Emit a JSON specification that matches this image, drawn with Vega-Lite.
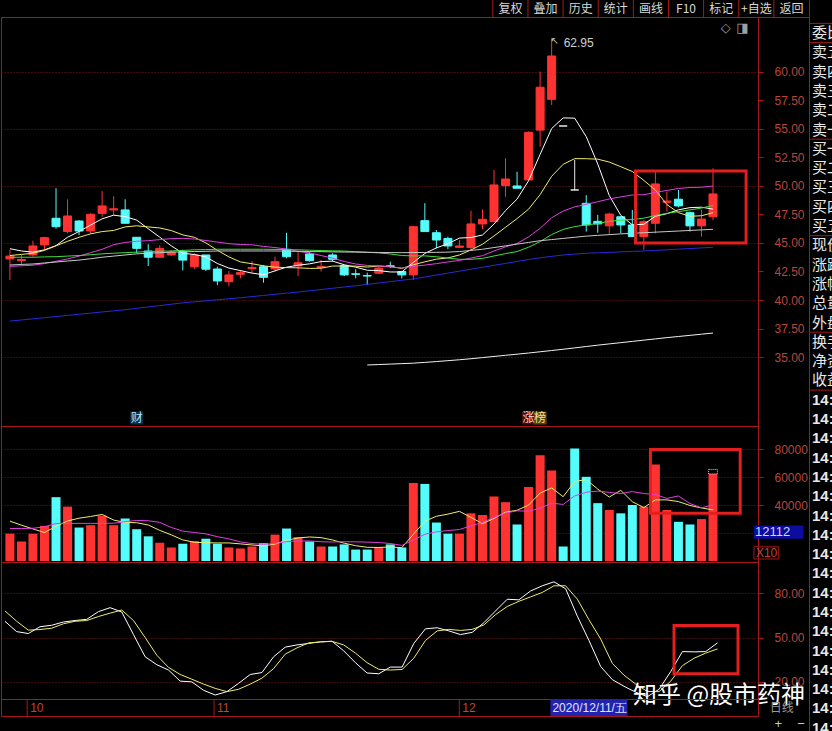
{
"$schema": "https://vega.github.io/schema/vega-lite/v6.json",
"background": "#000000",
"padding": 0,
"columns": 2,
"spacing": 0,
"bounds": "flush",
"align": "each",
"resolve": {"scale": {"stroke": "independent", "color": "independent", "fill": "independent"}},
"config": {
  "view": {"stroke": "#a81818", "strokeWidth": 1},
  "axis": {"labelFont": "Liberation Sans", "labelFontSize": 12, "labelColor": "#b8473d", "tickColor": "#a81818", "domainColor": "#a81818", "gridColor": "#7a1a1a", "gridDash": [1, 2]},
  "text": {"font": "Liberation Sans"}
},
"datasets": {
  "k": [
{"i":0,"o":43.6,"h":44.4,"l":41.75,"c":43.85,"v":19600,"m5":44.5,"m10":43.9,"m20":42.95,"m30":43.75,"m60":43.07,"m120":38.15,"vm5":28600,"vm10":23300,"K":61,"D":68},
{"i":1,"o":43.45,"h":43.95,"l":42.98,"c":43.55,"v":14000,"m5":44.3,"m10":44.0,"m20":43.0,"m30":43.75,"m60":43.12,"m120":38.25,"vm5":25700,"vm10":23300,"K":54,"D":61},
{"i":2,"o":43.95,"h":45.2,"l":43.8,"c":44.74,"v":19600,"m5":44.2,"m10":44.1,"m20":43.05,"m30":43.75,"m60":43.16,"m120":38.35,"vm5":23000,"vm10":23500,"K":52.7,"D":55},
{"i":3,"o":44.83,"h":45.55,"l":44.4,"c":45.47,"v":25200,"m5":44.4,"m10":44.35,"m20":43.2,"m30":43.78,"m60":43.25,"m120":38.45,"vm5":20400,"vm10":24500,"K":57.3,"D":55.4},
{"i":4,"o":47.17,"h":49.8,"l":46.26,"c":46.43,"v":45800,"m5":44.77,"m10":44.75,"m20":43.4,"m30":43.8,"m60":43.33,"m120":38.55,"vm5":24840,"vm10":26900,"K":58.3,"D":56.3},
{"i":5,"o":46.0,"h":48.83,"l":45.85,"c":47.37,"v":39000,"m5":45.5,"m10":45.15,"m20":43.6,"m30":43.85,"m60":43.42,"m120":38.65,"vm5":28720,"vm10":27000,"K":60.5,"D":59.3},
{"i":6,"o":46.93,"h":47.0,"l":45.7,"c":46.05,"v":24000,"m5":46.01,"m10":45.5,"m20":43.85,"m30":43.9,"m60":43.5,"m120":38.75,"vm5":30720,"vm10":27000,"K":61.5,"D":61},
{"i":7,"o":46.05,"h":47.6,"l":45.8,"c":47.52,"v":25700,"m5":46.57,"m10":45.8,"m20":44.15,"m30":43.97,"m60":43.62,"m120":38.85,"vm5":31940,"vm10":27000,"K":62.3,"D":61.5},
{"i":8,"o":47.6,"h":49.56,"l":47.3,"c":48.25,"v":32500,"m5":47.12,"m10":46.0,"m20":44.45,"m30":44.05,"m60":43.75,"m120":38.95,"vm5":33400,"vm10":27000,"K":67.5,"D":64.2},
{"i":9,"o":47.9,"h":49.1,"l":47.45,"c":48.0,"v":25700,"m5":47.44,"m10":46.1,"m20":44.85,"m30":44.1,"m60":43.85,"m120":39.05,"vm5":29380,"vm10":27110,"K":70.2,"D":66.5},
{"i":10,"o":47.9,"h":48.83,"l":46.73,"c":46.73,"v":30500,"m5":47.31,"m10":46.41,"m20":45.05,"m30":44.15,"m60":43.95,"m120":39.15,"vm5":27680,"vm10":28200,"K":67.3,"D":68.6},
{"i":11,"o":45.5,"h":45.5,"l":44.1,"c":44.53,"v":22800,"m5":47.01,"m10":46.51,"m20":45.15,"m30":44.2,"m60":44.05,"m120":39.27,"vm5":27440,"vm10":29080,"K":52,"D":61.5},
{"i":12,"o":44.3,"h":44.9,"l":42.98,"c":43.75,"v":17700,"m5":46.25,"m10":46.41,"m20":45.2,"m30":44.25,"m60":44.1,"m120":39.39,"vm5":25840,"vm10":28890,"K":37,"D":50},
{"i":13,"o":43.75,"h":44.8,"l":43.75,"c":44.53,"v":13100,"m5":45.51,"m10":46.32,"m20":45.3,"m30":44.28,"m60":44.15,"m120":39.51,"vm5":21960,"vm10":27680,"K":31.6,"D":38},
{"i":14,"o":43.95,"h":44.4,"l":43.86,"c":44.2,"v":9700,"m5":44.75,"m10":46.09,"m20":45.38,"m30":44.3,"m60":44.2,"m120":39.63,"vm5":18760,"vm10":24070,"K":28,"D":29.8},
{"i":15,"o":44.24,"h":44.4,"l":42.6,"c":43.5,"v":12400,"m5":44.1,"m10":45.71,"m20":45.41,"m30":44.35,"m60":44.22,"m120":39.75,"vm5":15140,"vm10":21410,"K":20.5,"D":25},
{"i":16,"o":42.92,"h":44.1,"l":42.7,"c":43.95,"v":14300,"m5":43.99,"m10":45.5,"m20":45.35,"m30":44.4,"m60":44.25,"m120":39.84,"vm5":13440,"vm10":20440,"K":20,"D":21.8},
{"i":17,"o":43.95,"h":43.95,"l":42.55,"c":42.7,"v":16000,"m5":43.78,"m10":45.01,"m20":45.22,"m30":44.42,"m60":44.27,"m120":39.93,"vm5":13100,"vm10":19470,"K":14.3,"D":18.5},
{"i":18,"o":42.72,"h":42.92,"l":41.3,"c":41.67,"v":12400,"m5":43.2,"m10":44.36,"m20":45.08,"m30":44.45,"m60":44.3,"m120":40.02,"vm5":12960,"vm10":17460,"K":11.1,"D":15.6},
{"i":19,"o":41.6,"h":42.55,"l":41.2,"c":42.2,"v":9700,"m5":42.8,"m10":43.78,"m20":44.94,"m30":44.45,"m60":44.3,"m120":40.11,"vm5":12960,"vm10":15860,"K":13.4,"D":13.4},
{"i":20,"o":42.25,"h":42.63,"l":41.9,"c":42.4,"v":9000,"m5":42.58,"m10":43.34,"m20":44.87,"m30":44.45,"m60":44.3,"m120":40.2,"vm5":12280,"vm10":13710,"K":19,"D":15},
{"i":21,"o":42.75,"h":43.4,"l":42.4,"c":42.85,"v":10400,"m5":42.36,"m10":43.18,"m20":44.84,"m30":44.45,"m60":44.3,"m120":40.3,"vm5":11500,"vm10":12470,"K":25,"D":18.5},
{"i":22,"o":42.92,"h":43.07,"l":41.52,"c":41.99,"v":12800,"m5":42.22,"m10":43.0,"m20":44.7,"m30":44.45,"m60":44.3,"m120":40.4,"vm5":10860,"vm10":11980,"K":26.3,"D":22.5},
{"i":23,"o":42.72,"h":43.8,"l":42.48,"c":43.36,"v":18900,"m5":42.56,"m10":42.88,"m20":44.6,"m30":44.44,"m60":44.3,"m120":40.5,"vm5":12160,"vm10":12560,"K":37,"D":29},
{"i":24,"o":44.45,"h":45.9,"l":43.66,"c":43.8,"v":23300,"m5":42.88,"m10":42.84,"m20":44.47,"m30":44.42,"m60":44.28,"m120":40.6,"vm5":14880,"vm10":13920,"K":43.5,"D":38.8},
{"i":25,"o":42.98,"h":44.24,"l":42.1,"c":43.27,"v":17200,"m5":43.05,"m10":42.82,"m20":44.26,"m30":44.4,"m60":44.27,"m120":40.7,"vm5":16520,"vm10":14400,"K":45,"D":43},
{"i":26,"o":44.04,"h":44.24,"l":43.36,"c":43.45,"v":14000,"m5":43.17,"m10":42.77,"m20":44.13,"m30":44.37,"m60":44.25,"m120":40.81,"vm5":17240,"vm10":14370,"K":46,"D":46.4},
{"i":27,"o":42.85,"h":43.5,"l":42.5,"c":42.95,"v":10400,"m5":43.37,"m10":42.79,"m20":43.9,"m30":44.34,"m60":44.24,"m120":40.92,"vm5":16760,"vm10":13810,"K":47.1,"D":47},
{"i":28,"o":43.95,"h":44.1,"l":43.36,"c":43.57,"v":10400,"m5":43.41,"m10":42.98,"m20":43.67,"m30":44.31,"m60":44.22,"m120":41.03,"vm5":15060,"vm10":13610,"K":47.5,"D":47.4},
{"i":29,"o":43.03,"h":43.03,"l":42.1,"c":42.2,"v":11900,"m5":43.09,"m10":42.98,"m20":43.38,"m30":44.29,"m60":44.21,"m120":41.14,"vm5":12780,"vm10":13830,"K":41,"D":45},
{"i":30,"o":42.3,"h":42.7,"l":41.9,"c":42.25,"v":8200,"m5":42.88,"m10":42.97,"m20":43.16,"m30":44.24,"m60":44.2,"m120":41.25,"vm5":10980,"vm10":13750,"K":33,"D":39.5},
{"i":31,"o":42.15,"h":42.4,"l":41.3,"c":42.1,"v":8200,"m5":42.61,"m10":42.89,"m20":43.03,"m30":44.19,"m60":44.18,"m120":41.37,"m250":34.3,"vm5":9820,"vm10":13530,"K":26,"D":33},
{"i":32,"o":42.35,"h":42.93,"l":42.3,"c":42.8,"v":9900,"m5":42.58,"m10":42.98,"m20":42.99,"m30":44.13,"m60":44.17,"m120":41.49,"m250":34.34,"vm5":9720,"vm10":13240,"K":25.5,"D":28.5},
{"i":33,"o":43.0,"h":43.36,"l":42.8,"c":42.95,"v":11900,"m5":42.46,"m10":42.93,"m20":42.91,"m30":44.04,"m60":44.16,"m120":41.61,"m250":34.38,"vm5":10020,"vm10":12540,"K":30,"D":28},
{"i":34,"o":42.5,"h":42.5,"l":41.9,"c":42.2,"v":9700,"m5":42.46,"m10":42.77,"m20":42.81,"m30":43.9,"m60":44.15,"m120":41.73,"m250":34.42,"vm5":9580,"vm10":11180,"K":30,"D":28.4},
{"i":35,"o":42.2,"h":46.43,"l":41.75,"c":46.43,"v":56000,"m5":43.3,"m10":43.09,"m20":42.95,"m30":43.87,"m60":44.16,"m120":41.85,"m250":34.46,"vm5":19140,"vm10":15060,"K":46,"D":36},
{"i":36,"o":46.96,"h":48.49,"l":46.0,"c":46.0,"v":55300,"m5":44.08,"m10":43.35,"m20":43.06,"m30":43.87,"m60":44.17,"m120":42.02,"m250":34.53,"vm5":28560,"vm10":19190,"K":55.9,"D":48},
{"i":37,"o":45.9,"h":46.14,"l":44.53,"c":45.26,"v":27600,"m5":44.57,"m10":43.58,"m20":43.19,"m30":43.79,"m60":44.18,"m120":42.19,"m250":34.6,"vm5":32100,"vm10":20910,"K":56.6,"D":54.5},
{"i":38,"o":45.4,"h":45.55,"l":44.45,"c":44.74,"v":19600,"m5":44.93,"m10":43.69,"m20":43.34,"m30":43.68,"m60":44.2,"m120":42.36,"m250":34.68,"vm5":33640,"vm10":21830,"K":54.5,"D":55.5},
{"i":39,"o":44.62,"h":45.26,"l":44.6,"c":44.74,"v":19600,"m5":45.43,"m10":43.95,"m20":43.47,"m30":43.57,"m60":44.25,"m120":42.53,"m250":34.76,"vm5":35620,"vm10":22600,"K":52,"D":54.8},
{"i":40,"o":44.6,"h":47.83,"l":44.4,"c":46.67,"v":34200,"m5":45.48,"m10":44.39,"m20":43.68,"m30":43.57,"m60":44.35,"m120":42.7,"m250":34.85,"vm5":31260,"vm10":25200,"K":53.5,"D":55.5},
{"i":41,"o":46.67,"h":47.96,"l":46.2,"c":47.08,"v":33000,"m5":45.7,"m10":44.89,"m20":43.89,"m30":43.65,"m60":44.45,"m120":42.87,"m250":34.95,"vm5":26800,"vm10":27680,"K":60,"D":58.5},
{"i":42,"o":46.87,"h":51.4,"l":46.87,"c":50.09,"v":46300,"m5":46.66,"m10":45.62,"m20":44.3,"m30":43.86,"m60":44.6,"m120":43.04,"m250":35.05,"vm5":30540,"vm10":31320,"K":68,"D":65.5},
{"i":43,"o":50.03,"h":52.43,"l":49.06,"c":50.61,"v":42200,"m5":47.84,"m10":46.38,"m20":44.66,"m30":44.07,"m60":44.75,"m120":43.21,"m250":35.15,"vm5":35060,"vm10":34350,"K":75.9,"D":71},
{"i":44,"o":50.0,"h":51.25,"l":49.8,"c":49.8,"v":26200,"m5":48.85,"m10":47.14,"m20":44.96,"m30":44.25,"m60":44.9,"m120":43.38,"m250":35.25,"vm5":36380,"vm10":36000,"K":75.5,"D":74.5},
{"i":45,"o":50.53,"h":54.78,"l":50.53,"c":54.71,"v":53100,"m5":50.46,"m10":47.97,"m20":45.53,"m30":44.63,"m60":45.05,"m120":43.55,"m250":35.35,"vm5":40160,"vm10":35710,"K":81.5,"D":77.5},
{"i":46,"o":54.9,"h":60.03,"l":53.45,"c":58.66,"v":75900,"m5":52.77,"m10":49.24,"m20":46.29,"m30":45.12,"m60":45.2,"m120":43.7,"m250":35.46,"vm5":48740,"vm10":37770,"K":85,"D":80.5},
{"i":47,"o":57.6,"h":62.95,"l":57.1,"c":61.4,"v":65000,"m5":55.04,"m10":50.85,"m20":47.21,"m30":45.74,"m60":45.3,"m120":43.83,"m250":35.57,"vm5":52480,"vm10":41510,"K":87.7,"D":85},
{"i":48,"o":55.26,"h":55.26,"l":55.26,"c":55.26,"v":10400,"m5":55.97,"m10":51.9,"m20":47.8,"m30":46.19,"m60":45.4,"m120":43.95,"m250":35.68,"vm5":46120,"vm10":40590,"K":83,"D":85},
{"i":49,"o":49.65,"h":52.3,"l":49.65,"c":49.65,"v":80700,"m5":55.95,"m10":52.4,"m20":48.17,"m30":46.44,"m60":45.5,"m120":44.03,"m250":35.8,"vm5":57020,"vm10":46700,"K":64.5,"D":76},
{"i":50,"o":48.48,"h":49.2,"l":46.0,"c":46.58,"v":60400,"m5":54.33,"m10":52.39,"m20":48.39,"m30":46.58,"m60":45.6,"m120":44.1,"m250":35.92,"vm5":58480,"vm10":49320,"K":48,"D":62},
{"i":51,"o":46.9,"h":47.47,"l":45.9,"c":46.67,"v":41500,"m5":51.93,"m10":52.35,"m20":48.62,"m30":46.71,"m60":45.67,"m120":44.14,"m250":36.04,"vm5":51600,"vm10":50170,"K":30.4,"D":49},
{"i":52,"o":46.5,"h":47.65,"l":45.7,"c":47.54,"v":36600,"m5":49.16,"m10":52.1,"m20":48.86,"m30":46.9,"m60":45.73,"m120":44.18,"m250":36.15,"vm5":45920,"vm10":49200,"K":21.5,"D":32.5},
{"i":53,"o":47.3,"h":47.36,"l":45.85,"c":46.58,"v":34200,"m5":47.42,"m10":51.69,"m20":49.04,"m30":47.0,"m60":45.8,"m120":44.22,"m250":36.26,"vm5":50680,"vm10":48400,"K":17,"D":24.5},
{"i":54,"o":46.58,"h":47.9,"l":45.56,"c":45.56,"v":40200,"m5":46.59,"m10":51.27,"m20":49.21,"m30":47.06,"m60":45.85,"m120":44.26,"m250":36.37,"vm5":42580,"vm10":49800,"K":13,"D":18.5},
{"i":55,"o":45.56,"h":47.0,"l":44.4,"c":46.87,"v":39000,"m5":46.64,"m10":50.49,"m20":49.23,"m30":47.18,"m60":45.9,"m120":44.3,"m250":36.48,"vm5":38300,"vm10":48390,"K":10,"D":13.5},
{"i":56,"o":46.73,"h":51.3,"l":45.85,"c":50.18,"v":69300,"m5":47.35,"m10":49.64,"m20":49.44,"m30":47.41,"m60":45.95,"m120":44.35,"m250":36.59,"vm5":43860,"vm10":47730,"K":15,"D":13.4},
{"i":57,"o":48.57,"h":49.5,"l":47.75,"c":48.68,"v":36600,"m5":47.57,"m10":48.37,"m20":49.61,"m30":47.6,"m60":46.0,"m120":44.4,"m250":36.7,"vm5":43860,"vm10":44890,"K":27,"D":20.5},
{"i":58,"o":48.84,"h":49.65,"l":48.13,"c":48.25,"v":28100,"m5":47.91,"m10":47.66,"m20":49.78,"m30":47.75,"m60":46.05,"m120":44.46,"m250":36.8,"vm5":42640,"vm10":46660,"K":40.5,"D":31},
{"i":59,"o":47.66,"h":47.75,"l":46.0,"c":46.5,"v":26200,"m5":48.1,"m10":47.34,"m20":49.87,"m30":47.9,"m60":46.1,"m120":44.51,"m250":36.9,"vm5":39840,"vm10":41210,"K":40.3,"D":36},
{"i":60,"o":46.5,"h":47.9,"l":45.56,"c":47.1,"v":30100,"m5":48.14,"m10":47.39,"m20":49.89,"m30":48.06,"m60":46.15,"m120":44.57,"m250":37.0,"vm5":38060,"vm10":38180,"K":40.5,"D":39.5},
{"i":61,"o":47.3,"h":51.55,"l":47.0,"c":49.3,"v":62500,"m5":47.97,"m10":47.66,"m20":50.0,"m30":48.3,"m60":46.2,"m120":44.62,"m250":37.1,"vm5":36700,"vm10":40280,"K":46.4,"D":42.3}
  ],
  "ev": [{"i": 11, "t": "财"}, {"i": 45, "t": "涨"}, {"i": 46, "t": "榜"}],
  "months": [{"i": 1.9, "m": "10"}, {"i": 17.9, "m": "11"}, {"i": 38.9, "m": "12"}],
  "btns": [{"b": "复权"}, {"b": "叠加"}, {"b": "历史"}, {"b": "统计"}, {"b": "画线"}, {"b": "F10"}, {"b": "标记"}, {"b": "+自选"}, {"b": "返回"}],
  "side": [{"r":0,"t":"委比"},{"r":1,"t":"卖五"},{"r":2,"t":"卖四"},{"r":3,"t":"卖三"},{"r":4,"t":"卖二"},{"r":5,"t":"卖一"},{"r":6,"t":"买一"},{"r":7,"t":"买二"},{"r":8,"t":"买三"},{"r":9,"t":"买四"},{"r":10,"t":"买五"},{"r":11,"t":"现价"},{"r":12,"t":"涨跌"},{"r":13,"t":"涨幅"},{"r":14,"t":"总量"},{"r":15,"t":"外盘"},{"r":16,"t":"换手"},{"r":17,"t":"净资"},{"r":18,"t":"收益"}],
  "times": [{"r":19,"t":"14:45"},{"r":20,"t":"14:45"},{"r":21,"t":"14:45"},{"r":22,"t":"14:46"},{"r":23,"t":"14:46"},{"r":24,"t":"14:46"},{"r":25,"t":"14:47"},{"r":26,"t":"14:47"},{"r":27,"t":"14:47"},{"r":28,"t":"14:48"},{"r":29,"t":"14:48"},{"r":30,"t":"14:48"},{"r":31,"t":"14:49"},{"r":32,"t":"14:49"},{"r":33,"t":"14:49"},{"r":34,"t":"14:50"},{"r":35,"t":"14:50"},{"r":36,"t":"14:50"}],
  "seps": [{"r": -0.5}, {"r": 0.5}, {"r": 5.5}, {"r": 10.5}, {"r": 15.5}, {"r": 18.5}]
},
"concat": [
  {
    "width": 808, "height": 17,
    "view": {"stroke": null},
    "data": {"name": "btns"},
    "encoding": {"x": {"field": "b", "type": "nominal", "scale": {"type": "band", "domain": ["p0","p1","p2","p3","p4","p5","p6","p7","p8","p9","p10","p11","p12","p13","复权","叠加","历史","统计","画线","F10","标记","+自选","返回"], "paddingInner": 0, "paddingOuter": 0}, "axis": {"orient": "bottom", "labels": false, "ticks": false, "grid": false, "title": null, "domainColor": "#a81818"}}},
    "layer": [
      {"mark": {"type": "rule", "color": "#a81818", "clip": true}, "encoding": {"x": {"field": "b", "type": "nominal", "bandPosition": 0}}},
      {"mark": {"type": "text", "color": "#d8d8d8", "font": "Noto Sans CJK SC", "fontSize": 12}, "encoding": {"text": {"field": "b"}}}
    ]
  },
  {
    "width": 24, "height": 17, "view": {"stroke": null},
    "data": {"values": [{"r": -1.2, "t": ""}]},
    "mark": {"type": "text", "clip": true},
    "encoding": {"y": {"field": "r", "type": "quantitative", "scale": {"domain": [-1.71, -0.83], "reverse": true, "nice": false, "zero": false}, "axis": {"orient": "left", "labels": false, "ticks": false, "grid": false, "title": null, "domainColor": "#a81818"}}, "text": {"field": "t"}}
  },
  {
    "width": 757, "height": 409,
    "data": {"name": "k"},
    "layer": [
      {"mark": {"type": "rule", "strokeWidth": 1},
       "encoding": {
         "x": {"field": "i", "type": "quantitative", "scale": {"domain": [-0.34, 64.47], "nice": false, "zero": false}, "axis": null},
         "y": {"field": "l", "type": "quantitative", "scale": {"domain": [28.95, 64.82], "nice": false, "zero": false},
               "axis": {"orient": "right", "title": null, "values": [35,37.5,40,42.5,45,47.5,50,52.5,55,57.5,60], "format": ".2f", "domain": false, "tickSize": 5, "labelPadding": 11, "grid": true, "gridOpacity": {"condition": {"test": "datum.value % 5 === 0", "value": 1}, "value": 0}}},
         "y2": {"field": "h"},
         "color": {"condition": [{"test": "datum.c > datum.o", "value": "#ff3232"}, {"test": "datum.c < datum.o", "value": "#54fcfc"}], "value": "#e8e8e8"}
       }},
      {"mark": {"type": "bar", "width": 8, "strokeWidth": 1},
       "encoding": {
         "x": {"field": "i", "type": "quantitative", "axis": null},
         "y": {"field": "o", "type": "quantitative"},
         "y2": {"field": "c"},
         "fill": {"condition": [{"test": "datum.c > datum.o", "value": "#ff3232"}, {"test": "datum.c < datum.o", "value": "#54fcfc"}], "value": "#e8e8e8"},
         "stroke": {"condition": [{"test": "datum.c > datum.o", "value": "#ff3232"}, {"test": "datum.c < datum.o", "value": "#54fcfc"}], "value": "#e8e8e8"}
       }},
      {"transform": [{"fold": ["m5","m10","m20","m30","m60","m120","m250"], "as": ["key","value"]}],
       "mark": {"type": "line", "strokeWidth": 1},
       "encoding": {
         "x": {"field": "i", "type": "quantitative", "axis": null},
         "y": {"field": "value", "type": "quantitative"},
         "stroke": {"field": "key", "type": "nominal", "scale": {"domain": ["m5","m10","m20","m30","m60","m120","m250"], "range": ["#ffffff","#f0ec6a","#e040e0","#3ee03e","#c8c8c8","#2a2ad8","#f0f0f0"]}, "legend": null}
       }},
      {"data": {"values": [{"a": 1}]},
       "mark": {"type": "rect", "fill": "transparent", "stroke": "#e41e1e", "strokeWidth": 3},
       "encoding": {"x": {"datum": 54.28, "type": "quantitative", "axis": null}, "x2": {"datum": 63.87}, "y": {"datum": 45.0, "type": "quantitative"}, "y2": {"datum": 51.32}}},
      {"transform": [{"filter": "datum.i === 47"}],
       "mark": {"type": "text", "align": "left", "dx": 12, "dy": 5, "color": "#d0d0d0", "fontSize": 12},
       "encoding": {"x": {"field": "i", "type": "quantitative", "axis": null}, "y": {"field": "h", "type": "quantitative"}, "text": {"field": "h", "format": ".2f"}}},
      {"transform": [{"filter": "datum.i === 47"}],
       "mark": {"type": "text", "align": "left", "dx": -1, "dy": 3, "color": "#d0d0d0", "fontSize": 10, "font": "DejaVu Sans", "text": "↖"},
       "encoding": {"x": {"field": "i", "type": "quantitative", "axis": null}, "y": {"field": "h", "type": "quantitative"}}},
      {"data": {"name": "ev"},
       "mark": {"type": "point", "shape": "square", "size": 170, "filled": true, "opacity": 1},
       "encoding": {"x": {"field": "i", "type": "quantitative", "axis": null}, "y": {"datum": 29.65, "type": "quantitative"},
                    "fill": {"field": "t", "type": "nominal", "scale": {"domain": ["财","涨","榜"], "range": ["#0c2c4c","#4c0c0c","#5a4212"]}, "legend": null}}},
      {"data": {"name": "ev"},
       "mark": {"type": "text", "font": "Noto Sans CJK SC", "fontSize": 12},
       "encoding": {"x": {"field": "i", "type": "quantitative", "axis": null}, "y": {"datum": 29.65, "type": "quantitative"},
                    "text": {"field": "t"},
                    "color": {"field": "t", "type": "nominal", "scale": {"domain": ["财","涨","榜"], "range": ["#a8e4ff","#ffd0d0","#ffe08a"]}, "legend": null}}},
      {"data": {"values": [{"s": "◇", "x": 62.1}, {"s": "◨", "x": 63.55}]},
       "mark": {"type": "text", "color": "#a0a0a0", "fontSize": 13, "font": "DejaVu Sans"},
       "encoding": {"x": {"field": "x", "type": "quantitative", "axis": null}, "y": {"datum": 63.86, "type": "quantitative"}, "text": {"field": "s"}}}
    ]
  },
  {
    "width": 24, "height": 409, "view": {"stroke": null},
    "layer": [
      {"data": {"name": "side"}, "transform": [{"filter": "datum.r > -1.5 && datum.r < 21"}],
       "mark": {"type": "text", "align": "left", "dx": -9, "color": "#e8e8e8", "font": "Noto Sans CJK SC", "fontSize": 15, "clip": true},
       "encoding": {"y": {"field": "r", "type": "quantitative", "scale": {"domain": [-0.83, 20.36], "reverse": true, "nice": false, "zero": false}, "axis": {"orient": "left", "labels": false, "ticks": false, "grid": false, "title": null, "domainColor": "#a81818"}}, "text": {"field": "t"}}},
      {"data": {"name": "times"}, "transform": [{"filter": "datum.r > -1.5 && datum.r < 21"}],
       "mark": {"type": "text", "align": "left", "dx": -9, "color": "#e8e8e8", "fontWeight": "bold", "fontSize": 15, "clip": true},
       "encoding": {"y": {"field": "r", "type": "quantitative"}, "text": {"field": "t"}}},
      {"data": {"name": "seps"}, "transform": [{"filter": "datum.r > -0.83 && datum.r < 20.36"}],
       "mark": {"type": "rule", "color": "#a81818", "clip": true},
       "encoding": {"y": {"field": "r", "type": "quantitative"}}}
    ]
  },
  {
    "width": 757, "height": 136,
    "data": {"name": "k"},
    "layer": [
      {"mark": {"type": "bar", "width": 9},
       "encoding": {
         "x": {"field": "i", "type": "quantitative", "scale": {"domain": [-0.34, 64.47], "nice": false, "zero": false}, "axis": null},
         "y": {"field": "v", "type": "quantitative", "scale": {"domain": [-720, 96860], "nice": false, "zero": false},
               "axis": {"orient": "right", "title": null, "values": [20000,30000,40000,50000,60000,70000,80000], "format": "d", "labelExpr": "datum.value >= 40000 && datum.value % 20000 === 0 ? datum.label : ''", "domain": false, "tickSize": 5, "labelPadding": 11, "grid": true, "gridOpacity": {"condition": {"test": "datum.value % 20000 === 0", "value": 1}, "value": 0}}},
         "y2": {"datum": 0},
         "color": {"condition": {"test": "datum.c > datum.o", "value": "#ff3232"}, "value": "#54fcfc"}
       }},
      {"transform": [{"fold": ["vm5","vm10"], "as": ["key","value"]}],
       "mark": {"type": "line", "strokeWidth": 1},
       "encoding": {
         "x": {"field": "i", "type": "quantitative", "axis": null},
         "y": {"field": "value", "type": "quantitative"},
         "stroke": {"field": "key", "type": "nominal", "scale": {"domain": ["vm5","vm10"], "range": ["#f0ec6a","#e040e0"]}, "legend": null}
       }},
      {"data": {"values": [{"a": 1}]},
       "mark": {"type": "rect", "fill": "transparent", "stroke": "#e41e1e", "strokeWidth": 3},
       "encoding": {"x": {"datum": 55.57, "type": "quantitative", "axis": null}, "x2": {"datum": 63.36}, "y": {"datum": 34200, "type": "quantitative"}, "y2": {"datum": 80000}}},
      {"data": {"values": [{"a": 1}]},
       "mark": {"type": "rect", "fill": "transparent", "stroke": "#e0e0e0", "strokeWidth": 1, "strokeDash": [1, 1]},
       "encoding": {"x": {"datum": 60.62, "type": "quantitative", "axis": null}, "x2": {"datum": 61.38}, "y": {"datum": 62500, "type": "quantitative"}, "y2": {"datum": 65700}}},
      {"data": {"values": [{"a": 1}]},
       "mark": {"type": "rect", "fill": "#0c0ca0"},
       "encoding": {"x": {"datum": 64.55, "type": "quantitative", "axis": null}, "x2": {"datum": 68.84}, "y": {"datum": 15990, "type": "quantitative"}, "y2": {"datum": 25450}}},
      {"data": {"values": [{"t": "12112"}]},
       "mark": {"type": "text", "align": "left", "dx": 1, "color": "#d0d8ff", "fontSize": 13},
       "encoding": {"x": {"datum": 64.55, "type": "quantitative", "axis": null}, "y": {"datum": 20700, "type": "quantitative"}, "text": {"field": "t"}}},
      {"data": {"values": [{"a": 1}]},
       "mark": {"type": "rect", "fill": "transparent", "stroke": "#a81818", "strokeWidth": 1},
       "encoding": {"x": {"datum": 64.55, "type": "quantitative", "axis": null}, "x2": {"datum": 66.7}, "y": {"datum": 1450, "type": "quantitative"}, "y2": {"datum": 10180}}},
      {"data": {"values": [{"t": "X10"}]},
       "mark": {"type": "text", "align": "left", "dx": 2, "color": "#b8473d", "fontSize": 12},
       "encoding": {"x": {"datum": 64.55, "type": "quantitative", "axis": null}, "y": {"datum": 5800, "type": "quantitative"}, "text": {"field": "t"}}}
    ]
  },
  {
    "width": 24, "height": 136, "view": {"stroke": null},
    "layer": [
      {"data": {"name": "times"}, "transform": [{"filter": "datum.r > 19.7 && datum.r < 28.1"}],
       "mark": {"type": "text", "align": "left", "dx": -9, "color": "#e8e8e8", "fontWeight": "bold", "fontSize": 15, "clip": true},
       "encoding": {"y": {"field": "r", "type": "quantitative", "scale": {"domain": [20.36, 27.41], "reverse": true, "nice": false, "zero": false}, "axis": {"orient": "left", "labels": false, "ticks": false, "grid": false, "title": null, "domainColor": "#a81818"}}, "text": {"field": "t"}}}
    ]
  },
  {
    "width": 757, "height": 137,
    "data": {"name": "k"},
    "layer": [
      {"transform": [{"fold": ["K","D"], "as": ["key","value"]}],
       "mark": {"type": "line", "strokeWidth": 1},
       "encoding": {
         "x": {"field": "i", "type": "quantitative", "scale": {"domain": [-0.34, 64.47], "nice": false, "zero": false}, "axis": null},
         "y": {"field": "value", "type": "quantitative", "scale": {"domain": [8.41, 101.1], "nice": false, "zero": false},
               "axis": {"orient": "right", "title": null, "values": [20, 50, 80], "format": ".2f", "domain": false, "tickSize": 5, "labelPadding": 11, "grid": true}},
         "stroke": {"field": "key", "type": "nominal", "scale": {"domain": ["K","D"], "range": ["#ffffff","#f0ec6a"]}, "legend": null}
       }},
      {"data": {"values": [{"a": 1}]},
       "mark": {"type": "rect", "fill": "transparent", "stroke": "#e41e1e", "strokeWidth": 3},
       "encoding": {"x": {"datum": 57.28, "type": "quantitative", "axis": null}, "x2": {"datum": 62.76}, "y": {"datum": 25.5, "type": "quantitative"}, "y2": {"datum": 58.2}}},
      {"data": {"values": [{"t": "知乎 @股市药神"}]},
       "mark": {"type": "text", "align": "left", "baseline": "middle", "color": "#ffffff", "font": "Noto Sans CJK SC", "fontSize": 24},
       "encoding": {"x": {"datum": 53.77, "type": "quantitative", "axis": null}, "y": {"datum": 10.5, "type": "quantitative"}, "text": {"field": "t"}}}
    ]
  },
  {
    "width": 24, "height": 137, "view": {"stroke": null},
    "layer": [
      {"data": {"name": "times"}, "transform": [{"filter": "datum.r > 26.8 && datum.r < 35.2"}],
       "mark": {"type": "text", "align": "left", "dx": -9, "color": "#e8e8e8", "fontWeight": "bold", "fontSize": 15, "clip": true},
       "encoding": {"y": {"field": "r", "type": "quantitative", "scale": {"domain": [27.41, 34.51], "reverse": true, "nice": false, "zero": false}, "axis": {"orient": "left", "labels": false, "ticks": false, "grid": false, "title": null, "domainColor": "#a81818"}}, "text": {"field": "t"}}}
    ]
  },
  {
    "width": 757, "height": 17,
    "layer": [
      {"data": {"values": [{"t": "2020/12/11/五"}]},
       "mark": {"type": "rect", "fill": "#2222b0"},
       "encoding": {"x": {"datum": 46.7, "type": "quantitative", "scale": {"domain": [-0.34, 64.47], "nice": false, "zero": false}, "axis": null}, "x2": {"datum": 53.3}}},
      {"data": {"values": [{"t": "2020/12/11/五"}]},
       "mark": {"type": "text", "align": "left", "dx": 2, "color": "#e4e4ff", "fontSize": 12},
       "encoding": {"x": {"datum": 46.7, "type": "quantitative", "axis": null}, "text": {"field": "t"}}},
      {"data": {"name": "months"},
       "mark": {"type": "rule", "color": "#a81818"},
       "encoding": {"x": {"field": "i", "type": "quantitative", "axis": null}}},
      {"data": {"name": "months"},
       "mark": {"type": "text", "align": "left", "dx": 3, "color": "#b8473d", "fontSize": 12},
       "encoding": {"x": {"field": "i", "type": "quantitative", "axis": null}, "text": {"field": "m"}}},
      {"data": {"values": [{"t": "日线"}]},
       "mark": {"type": "text", "color": "#9a9a9a", "font": "Noto Sans CJK SC", "fontSize": 12},
       "encoding": {"x": {"datum": 66.5, "type": "quantitative", "axis": null}, "text": {"field": "t"}}}
    ]
  },
  {
    "width": 24, "height": 17, "view": {"stroke": null},
    "layer": [
      {"data": {"name": "times"}, "transform": [{"filter": "datum.r > 33.9 && datum.r < 36"}],
       "mark": {"type": "text", "align": "left", "dx": -9, "color": "#e8e8e8", "fontWeight": "bold", "fontSize": 15, "clip": true},
       "encoding": {"y": {"field": "r", "type": "quantitative", "scale": {"domain": [34.51, 35.39], "reverse": true, "nice": false, "zero": false}, "axis": {"orient": "left", "labels": false, "ticks": false, "grid": false, "title": null, "domainColor": "#a81818"}}, "text": {"field": "t"}}}
    ]
  },
  {
    "width": 757, "height": 15, "view": {"stroke": null},
    "data": {"values": [{"s": "+", "x": 66.2}, {"s": "−", "x": 68.15}]},
    "mark": {"type": "text", "color": "#c8c8c8", "fontSize": 13},
    "encoding": {"x": {"field": "x", "type": "quantitative", "scale": {"domain": [-0.34, 64.47], "nice": false, "zero": false}, "axis": null}, "text": {"field": "s"}}
  },
  {
    "width": 24, "height": 15, "view": {"stroke": null},
    "layer": [
      {"data": {"name": "times"}, "transform": [{"filter": "datum.r > 34.8"}],
       "mark": {"type": "text", "align": "left", "dx": -9, "color": "#e8e8e8", "fontWeight": "bold", "fontSize": 15, "clip": true},
       "encoding": {"y": {"field": "r", "type": "quantitative", "scale": {"domain": [35.39, 36.17], "reverse": true, "nice": false, "zero": false}, "axis": {"orient": "left", "labels": false, "ticks": false, "grid": false, "title": null, "domainColor": "#a81818"}}, "text": {"field": "t"}}}
    ]
  }
]
}
